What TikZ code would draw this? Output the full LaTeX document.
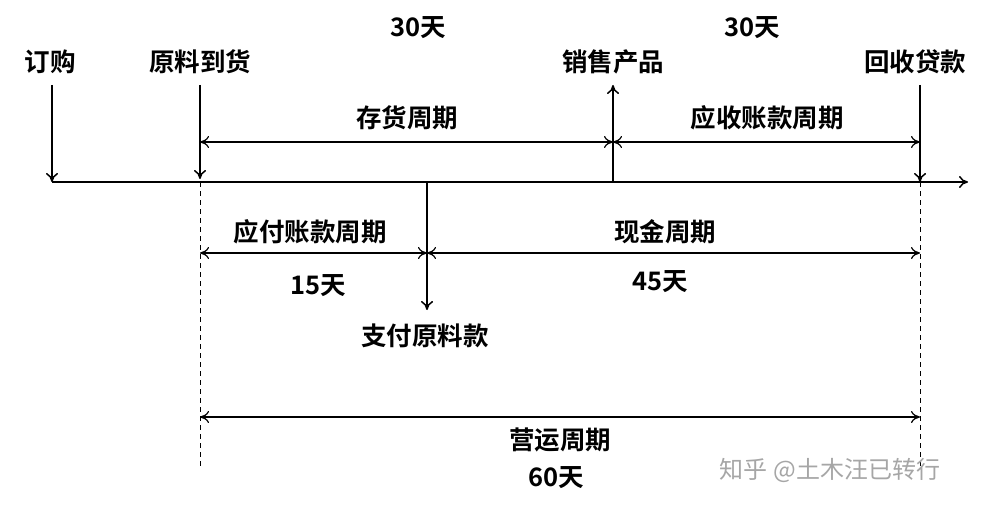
\documentclass[tikz,border=0pt]{standalone}
\usepackage{fontspec}
\setmainfont{Noto Sans CJK SC}
\newfontfamily\cjkb{Noto Sans CJK SC Bold}
\usetikzlibrary{arrows.meta}
\begin{document}
\begin{tikzpicture}[x=1pt,y=-1pt,
  lbl/.style={font=\cjkb\fontsize{25.5}{28}\selectfont,inner sep=0pt},
  ln/.style={line width=1.5pt,-{To[length=9pt,width=12pt]}},
  dbl/.style={line width=1.2pt,{To[length=9pt,width=12pt]}-{To[length=9pt,width=12pt]}},
  dsh/.style={line width=1pt,dashed,dash pattern=on 5pt off 4pt}]
\useasboundingbox (0,0) rectangle (992,513);
\coordinate (t0) at (52,182); \coordinate (tend) at (968,182);
\draw[ln] (t0) -- (tend);
\node[lbl] (dg) at (50,62) {订购};
\node[lbl] (yl) at (200,62) {原料到货};
\node[lbl] (xs) at (613,62) {销售产品};
\node[lbl] (hs) at (915,62) {回收贷款};
\node[lbl] (d1) at (418,28) {30天};
\node[lbl] (d2) at (752,28) {30天};
\coordinate (a1) at (52,85); \coordinate (a1b) at (52,182);
\coordinate (a2) at (200,85); \coordinate (a2b) at (200,179);
\coordinate (a3) at (613,182); \coordinate (a3b) at (613,85);
\coordinate (a4) at (920,85); \coordinate (a4b) at (920,182);
\draw[ln] (a1) -- (a1b);
\draw[ln] (a2) -- (a2b);
\draw[ln] (a3) -- (a3b);
\draw[ln] (a4) -- (a4b);
\coordinate (p0) at (427,182); \coordinate (p1) at (427,310);
\draw[ln] (p0) -- (p1);
\node[lbl] (zf) at (425,336) {支付原料款};
\draw[dsh] (200,182) -- (200,467);
\draw[dsh] (920,182) -- (920,467);
\node[lbl] (ch) at (407,118) {存货周期};
\draw[dbl] (200,142) -- (613,142);
\node[lbl] (ys) at (767,118) {应收账款周期};
\draw[dbl] (613,142) -- (920,142);
\node[lbl] (yf) at (310,232) {应付账款周期};
\draw[dbl] (200,253) -- (427,253);
\node[lbl] (d3) at (318,286) {15天};
\node[lbl] (xj) at (665,232) {现金周期};
\draw[dbl] (427,253) -- (920,253);
\node[lbl] (d4) at (660,282) {45天};
\draw[dbl] (200,417) -- (920,417);
\node[lbl] (yy) at (560,440) {营运周期};
\node[lbl] (d5) at (556,478) {60天};
\node[font=\fontsize{24}{26}\selectfont,text=gray!70,inner sep=0pt] (wm) at (830,470) {知乎 @土木汪已转行};
\end{tikzpicture}
\end{document}
